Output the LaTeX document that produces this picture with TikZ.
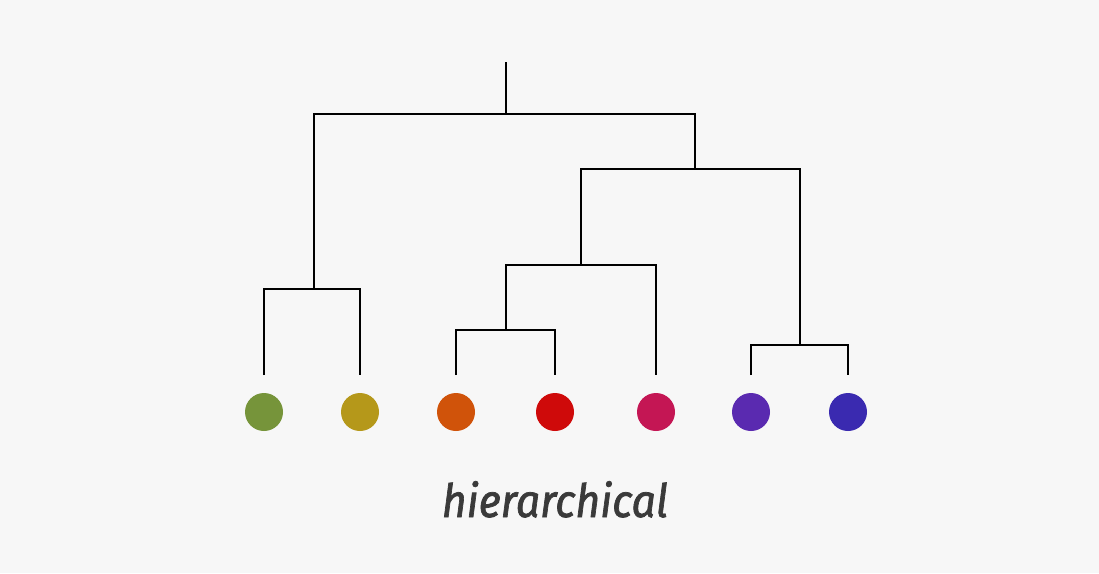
\documentclass[tikz,border=0pt]{standalone}
\usepackage{fontspec}
\setmainfont{Fira Sans}
\newfontfamily\labelfont[FakeBold=1.6]{Fira Sans}
\definecolor{bgcol}{HTML}{F7F7F7}
\definecolor{txtcol}{HTML}{3A3A3A}
\definecolor{cA}{HTML}{76943A}
\definecolor{cB}{HTML}{B5981A}
\definecolor{cC}{HTML}{D0530A}
\definecolor{cD}{HTML}{CF0A0A}
\definecolor{cE}{HTML}{C41654}
\definecolor{cF}{HTML}{5A2AB0}
\definecolor{cG}{HTML}{3A2AB0}
\tikzset{
    leaf/.style={circle, minimum size=38pt, inner sep=0pt},
    branch/.style={line width=2pt, black}
}
\begin{document}
\begin{tikzpicture}[x=1pt,y=-1pt]
    \fill[bgcol] (0,0) rectangle (1099,573);
    \useasboundingbox (0,0) rectangle (1099,573);

    % Leaves
    \node[leaf, fill=cA] (l1) at (264,412) {};
    \node[leaf, fill=cB] (l2) at (360,412) {};
    \node[leaf, fill=cC] (l3) at (456,412) {};
    \node[leaf, fill=cD] (l4) at (555,412) {};
    \node[leaf, fill=cE] (l5) at (656,412) {};
    \node[leaf, fill=cF] (l6) at (751,412) {};
    \node[leaf, fill=cG] (l7) at (848,412) {};

    % Leaf tops
    \foreach \i/\xx in {1/264,2/360,3/456,4/555,5/656,6/751,7/848}
        \coordinate (t\i) at (\xx,375);

    % Merge points
    \coordinate (m12) at (314,289);
    \coordinate (m34) at (506,330);
    \coordinate (m345) at (581,265);
    \coordinate (m67) at (800,345);
    \coordinate (m3to7) at (695,169);
    \coordinate (mall) at (506,114);
    \coordinate (root) at (506,62);

    % Branches
    \draw[branch] (t1) |- (m12) -| (t2);
    \draw[branch] (t3) |- (m34) -| (t4);
    \draw[branch] (m34) |- (m345) -| (t5);
    \draw[branch] (t6) |- (m67) -| (t7);
    \draw[branch] (m345) |- (m3to7) -| (m67);
    \draw[branch] (m12) |- (mall) -| (m3to7);
    \draw[branch] (mall) -- (root);

    \node[anchor=base, text=txtcol, xscale=0.93, transform shape,
        font=\labelfont\itshape\fontsize{46}{54}\selectfont] (label) at (555,517) {hierarchical};
\end{tikzpicture}
\end{document}
